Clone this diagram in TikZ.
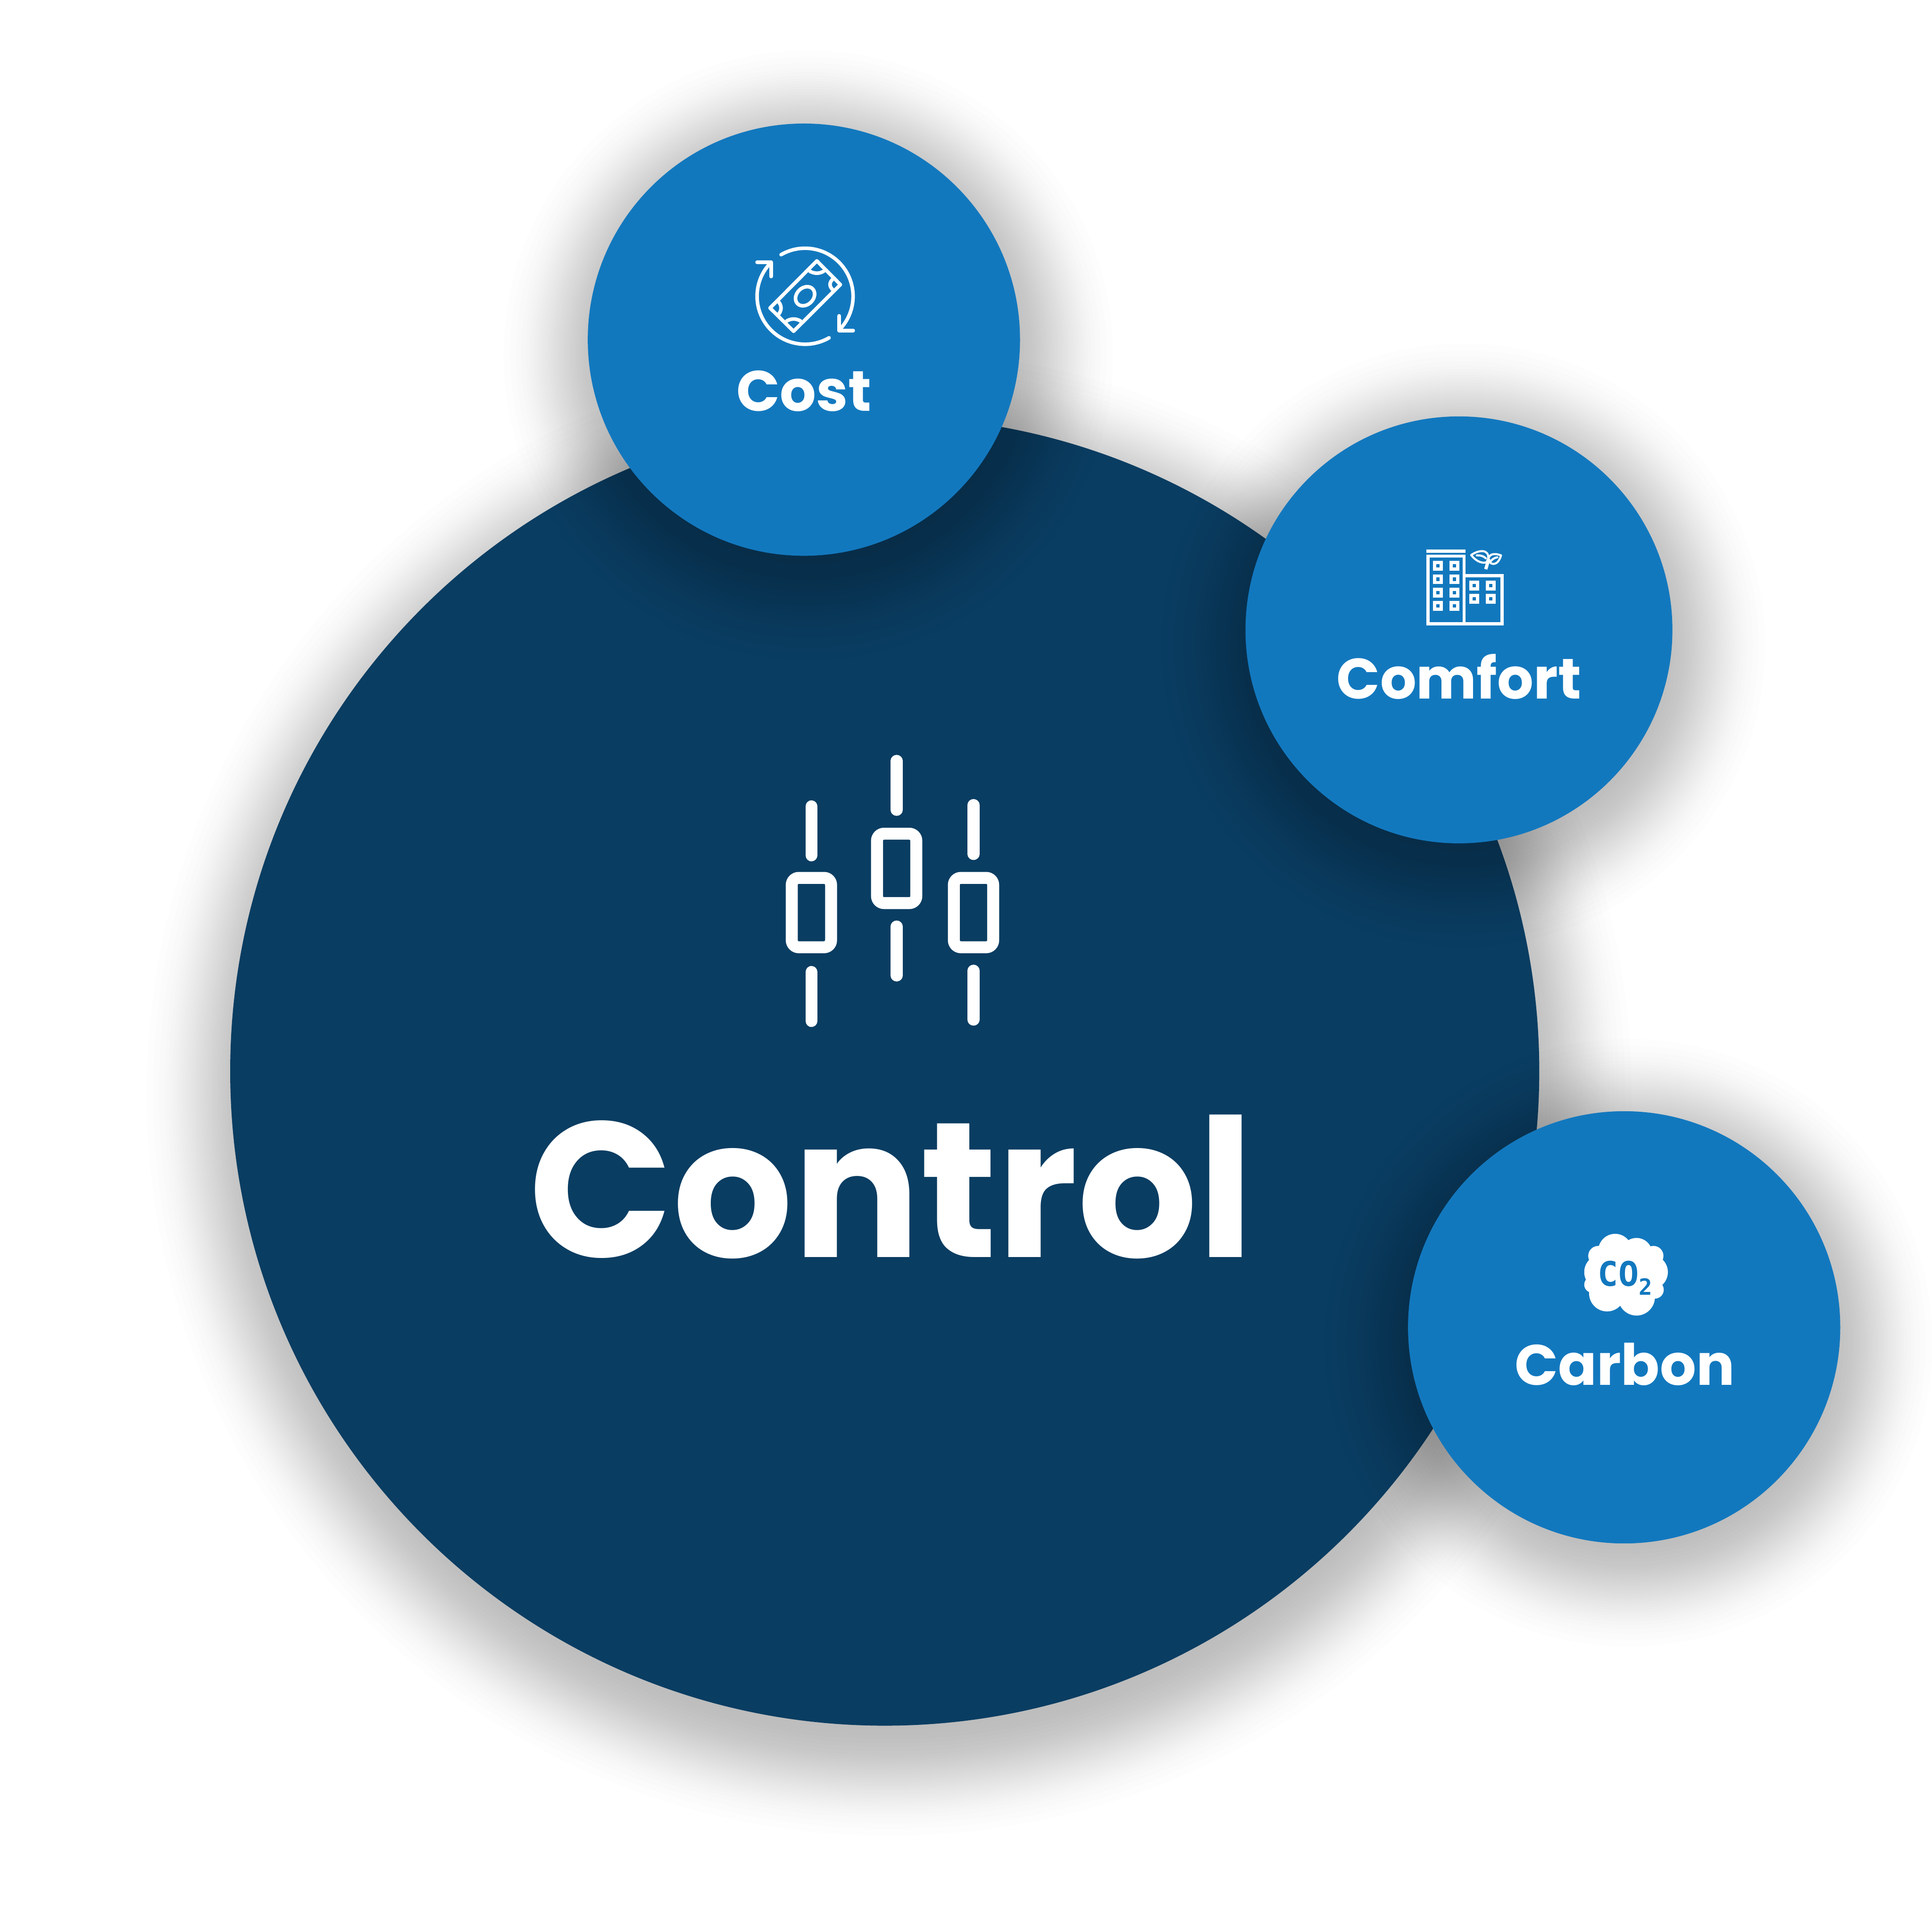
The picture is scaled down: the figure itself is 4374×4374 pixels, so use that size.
\documentclass[tikz,border=0pt]{standalone}
\usepackage{fontspec}
\setmainfont{Poppins}
\newfontfamily\cofont{DejaVu Sans Mono}
\usetikzlibrary{positioning}
\definecolor{navy}{HTML}{0A3D62}
\definecolor{azure}{HTML}{1278BE}
\tikzset{
  disc/.style={circle,fill=#1,inner sep=0pt,outer sep=0pt},
  bigdisc/.style={disc=navy,minimum size=29.62cm},
  smalldisc/.style args={#1}{disc=azure,minimum size=#1 cm},
  title/.style={text=white,anchor=base,inner sep=0pt,xscale=0.98,font=\bfseries\fontsize{124}{130}\selectfont},
  sublabel/.style={text=white,anchor=base,inner sep=0pt,font=\bfseries\fontsize{36.7}{40}\selectfont},
  slider/.style={draw=white,line width=7.7pt,line cap=round},
  knob/.style={draw=white,line width=7.7pt,rounded corners=4.5pt},
  thinline/.style={draw=white,line width=2.3pt,line cap=round,line join=round},
  blockline/.style={draw=white,line width=2.1pt},
  leafline/.style={draw=white,line width=1.3pt,line cap=round,line join=round}
}
% stacked faint discs in one group, one for each step of the soft edge
\newcommand{\softshadow}[3]{
  \begin{scope}[transparency group]
  \foreach \d in {200,185,172,160,151,143,136,130,124,118,112,106,100,95,90,85,79,74,68,63,57,52,47,41,36,30,24,18,9,0,-9,-18,-28,-40}
    \fill[black,fill opacity=0.0085] (#1,#2) circle[radius=#3+\d];
  \end{scope}
}
\begin{document}
\begin{tikzpicture}[x=0.01cm,y=-0.01cm]
  \useasboundingbox (0,0) rectangle (4374,4374);
  \fill[white] (0,0) rectangle (4374,4374);

  \softshadow{2013}{2475}{1481}
  \node[bigdisc] (control) at (2003,2425) {};

  \softshadow{1830}{804}{490}
  \softshadow{3313}{1461}{483}
  \softshadow{3687}{3040}{488}
  \node[smalldisc=9.78] (cost) at (1820,769) {};
  \node[smalldisc=9.66] (comfort) at (3303,1426) {};
  \node[smalldisc=9.78] (carbon) at (3677,3005) {};

  \node[title] (controltext) at (2018,2846) {Control};
  \node[sublabel] (costtext) at (1820,931) {Cost};
  \node[sublabel] (comforttext) at (3303,1582) {Comfort};
  \node[sublabel] (carbontext) at (3678,3136) {Carbon};

  % sliders
  \foreach \x/\s/\b in {1837/1812/1974,2030/1709/1874,2204/1809/1974}{
    \draw[slider] (\x,\s+13.5) -- (\x,\s+124.5);
    \draw[knob] (\x-44.5,\b+13.5) rectangle (\x+44.5,\b+170.5);
    \draw[slider] (\x,\s+388.5) -- (\x,\s+499.5);
  }

  % money icon
  \begin{scope}[shift={(1600,500)},scale=1/3]
    \draw[thinline] (668,512)+(240:326) arc[start angle=240,end angle=405,radius=326];
    \draw[thinline] (668,512)+(60:326) arc[start angle=60,end angle=225,radius=326];
    \draw[thinline] (900,645) -- (900,745) -- (995,745);
    \draw[thinline] (342,281) -- (437,281) -- (437,378);
    \draw[thinline] (748,272) -- (908,433) -- (590,750) -- (430,592) -- cycle;
    \draw[thinline] (668,512) circle[x radius=72,y radius=57,rotate=45];
    \draw[thinline] (700,342) .. controls (732,360) and (764,360) .. (795,342);
    \draw[thinline] (860,392) .. controls (830,418) and (830,446) .. (860,472);
    \draw[thinline] (483,545) .. controls (512,572) and (512,612) .. (483,640);
    \draw[thinline] (543,680) .. controls (575,662) and (605,662) .. (637,680);
  \end{scope}

  % building icon
  \begin{scope}[shift={(3150,1200)},scale=1/3]
    \fill[white] (237,132) rectangle (505,155);
    \draw[blockline] (248,177) rectangle (494,637);
    \draw[blockline] (494,311) rectangle (751,637);
    \foreach \x/\y in {281/210,393/210,281/300,393/300,281/390,393/390,281/480,393/480,530/343,642/343,530/433,642/433}
      \draw[blockline] (\x+11.5,\y+11.5) rectangle (\x+56.5,\y+56.5);
    \draw[leafline] (542,170) .. controls (590,135) and (665,125) .. (658,195)
       -- (645,220) .. controls (605,228) and (570,205) .. (542,170);
    \draw[leafline] (745,172) .. controls (700,155) and (660,160) .. (658,205)
       .. controls (680,245) and (725,240) .. (745,172);
    \draw[leafline] (580,172) .. controls (600,170) and (625,175) .. (642,192);
    \draw[leafline] (672,215) .. controls (685,198) and (700,188) .. (720,185);
    \draw[blockline] (641,266) -- (662,195);
  \end{scope}

  % cloud icon
  \begin{scope}[shift={(3530,2760)},scale=1/3]
    \fill[white] (380,215) circle[radius=115] (525,235) circle[radius=107]
      (265,250) circle[radius=68] (640,250) circle[radius=68]
      (290,360) circle[radius=120] (620,360) circle[radius=118]
      (225,445) circle[radius=55] (650,480) circle[radius=60]
      (325,505) circle[radius=122] (525,530) circle[radius=125]
      (450,380) circle[radius=200];
  \end{scope}
  \node[text=azure,anchor=base west,inner sep=0pt,font=\cofont\bfseries\fontsize{21.8}{22}\selectfont] (cotext)
    at (3617,2912) {CO\raisebox{-5.7pt}{\fontsize{14.4}{15}\selectfont 2}};
\end{tikzpicture}
\end{document}
